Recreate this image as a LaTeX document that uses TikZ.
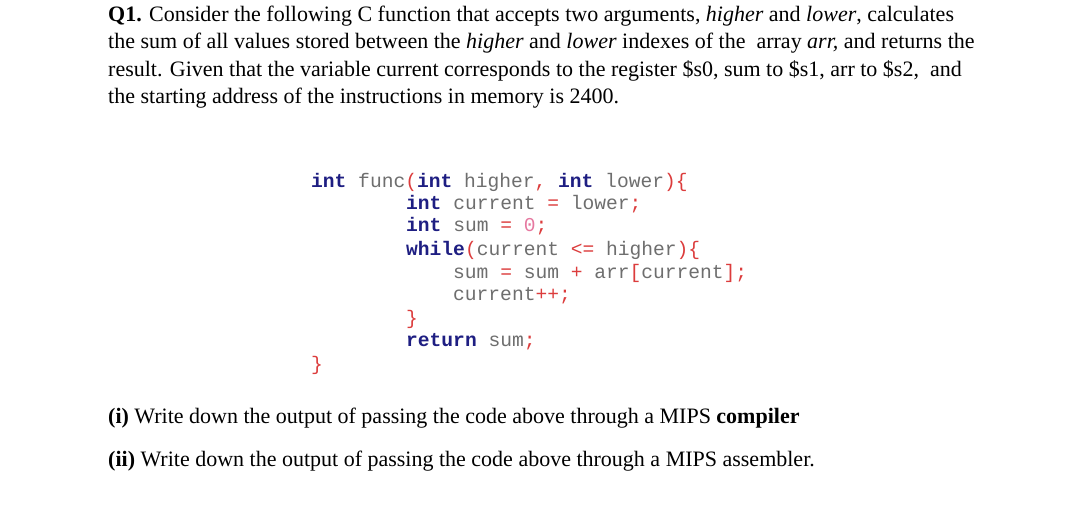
\documentclass[tikz,border=0pt]{standalone}
\usepackage{fontspec}
\setmainfont{Liberation Serif}
\newfontfamily\codefont{Liberation Mono}
\definecolor{kw}{RGB}{30,30,130}
\definecolor{idc}{RGB}{110,110,110}
\definecolor{pc}{RGB}{220,60,60}
\definecolor{nc}{RGB}{230,120,160}
\newcommand{\K}[1]{\textcolor{kw}{\textbf{#1}}}
\newcommand{\Pp}[1]{\textcolor{pc}{#1}}
\begin{document}
\begin{tikzpicture}[x=1pt,y=1pt,
  txt/.style={anchor=west,inner sep=0pt,font=\fontsize{22}{26}\selectfont},
  code/.style={anchor=west,inner sep=0pt,text=idc,font=\codefont\fontsize{19.6}{22}\selectfont}]
\useasboundingbox[fill=white] (0,0) rectangle (1080,-512);
\node[txt] (l1) at (108,-16) {\textbf{Q1.} Consider the following C function that accepts two arguments, \textit{higher} and \textit{lower}, calculates};
\node[txt] (l2) at (108,-43) {the sum of all values stored between the \textit{higher} and \textit{lower} indexes of the\ \ array \textit{arr,} and returns the};
\node[txt] (l3) at (108,-71) {result. Given that the variable current corresponds to the register \$s0, sum to \$s1, arr to \$s2,\ \ and};
\node[txt] (l4) at (108,-98) {the starting address of the instructions in memory is 2400.};
\node[code] (c1) at (311,-182) {\K{int} func\Pp{(}\K{int} higher\Pp{,} \K{int} lower\Pp{)}\Pp{\{}};
\node[code] (c2) at (406,-204) {\K{int} current \Pp{=} lower\Pp{;}};
\node[code] (c3) at (406,-226) {\K{int} sum \Pp{=} \textcolor{nc}{0}\Pp{;}};
\node[code] (c4) at (406,-250) {\K{while}\Pp{(}current \Pp{<=} higher\Pp{)}\Pp{\{}};
\node[code] (c5) at (453,-273) {sum \Pp{=} sum \Pp{+} arr\Pp{[}current\Pp{]}\Pp{;}};
\node[code] (c6) at (453,-296) {current\Pp{++;}};
\node[code] (c7) at (406,-319) {\Pp{\}}};
\node[code] (c8) at (406,-342) {\K{return} sum\Pp{;}};
\node[code] (c9) at (311,-365) {\Pp{\}}};
\node[txt] (q1) at (108,-418) {\textbf{(i)} Write down the output of passing the code above through a MIPS \textbf{compiler}};
\node[txt] (q2) at (108,-461) {\textbf{(ii)} Write down the output of passing the code above through a MIPS assembler.};
\end{tikzpicture}
\end{document}
